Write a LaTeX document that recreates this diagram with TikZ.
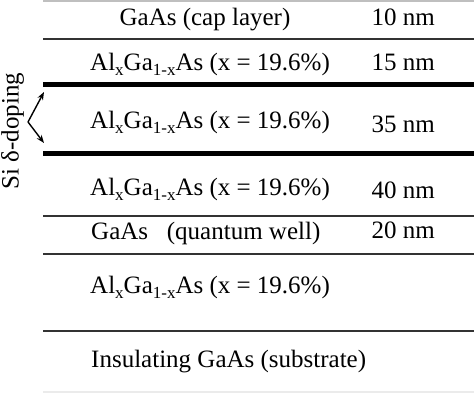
\documentclass[tikz,border=0pt]{standalone}
\usepackage{fontspec}
\setmainfont{Liberation Serif}
\usetikzlibrary{arrows.meta}
\newcommand{\sbx}[1]{\raisebox{-0.45ex}{\fontsize{17}{17}\selectfont #1}}
\newcommand{\algaas}{Al\sbx{x}Ga\sbx{1-x}As (x = 19.6\%)}
\begin{document}
\begin{tikzpicture}[x=1pt,y=-1pt,
  txt/.style={inner sep=0pt,font=\fontsize{25}{29}\selectfont},
  thin layer/.style={line width=1.5pt,draw=black!80},
  thick layer/.style={line width=5pt,draw=black},
  edge layer/.style={line width=2.5pt,draw=black!25},
  doparrow/.style={line width=1.4pt,-{Stealth[length=8pt,width=6pt]}}]
\useasboundingbox (0,0) rectangle (474,393);
% layer boundaries
\coordinate (t0l) at (43,0.5); \coordinate (t0r) at (474,0.5);
\coordinate (t1l) at (43,39); \coordinate (t1r) at (474,39);
\coordinate (t2l) at (43,85); \coordinate (t2r) at (474,85);
\coordinate (t3l) at (43,154); \coordinate (t3r) at (474,154);
\coordinate (t4l) at (43,216); \coordinate (t4r) at (474,216);
\coordinate (t5l) at (43,254); \coordinate (t5r) at (474,254);
\coordinate (t6l) at (43,331); \coordinate (t6r) at (474,331);
\coordinate (t7l) at (43,392.5); \coordinate (t7r) at (474,392.5);
\draw[edge layer] (t0l) -- (t0r);
\draw[thin layer] (t1l) -- (t1r);
\draw[thick layer] (t2l) -- (t2r);
\draw[thick layer] (t3l) -- (t3r);
\draw[thin layer] (t4l) -- (t4r);
\draw[thin layer] (t5l) -- (t5r);
\draw[thin layer] (t6l) -- (t6r);
\draw[edge layer,draw=black!8] (t7l) -- (t7r);
% layer labels
\node[txt] (cap) at (205,20) {GaAs (cap layer)};
\node[txt,anchor=west] (l1) at (90,64) {\algaas};
\node[txt,anchor=west] (l2) at (90,122) {\algaas};
\node[txt,anchor=west] (l3) at (90,189) {\algaas};
\node[txt,anchor=west] (qw) at (91,233) {GaAs\ \ \ (quantum well)};
\node[txt,anchor=west] (l4) at (90,287) {\algaas};
\node[txt,anchor=west] (sub) at (91,362) {Insulating GaAs (substrate)};
% thicknesses
\node[txt,anchor=east] (d1) at (435,17) {10 nm};
\node[txt,anchor=east] (d2) at (435,62) {15 nm};
\node[txt,anchor=east] (d3) at (435,124) {35 nm};
\node[txt,anchor=east] (d4) at (435,190) {40 nm};
\node[txt,anchor=east] (d5) at (435,230) {20 nm};
% delta doping
\node[txt,rotate=90] (si) at (12.5,131) {Si δ-doping};
\coordinate (v) at (28,122);
\coordinate (up) at (44,92);
\coordinate (dn) at (44,143);
\draw[doparrow] (v) -- (up);
\draw[doparrow] (v) -- (dn);
\end{tikzpicture}
\end{document}
